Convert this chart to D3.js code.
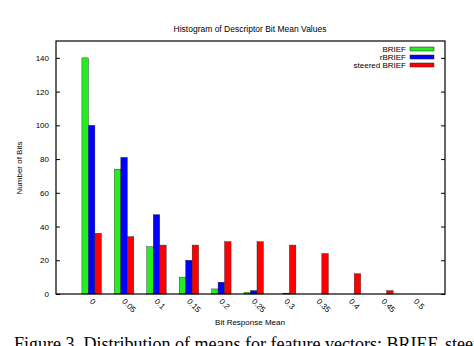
<!DOCTYPE html>
<html><head><meta charset="utf-8">
<script src="https://cdn.jsdelivr.net/npm/d3@7"></script>
<style>body{margin:0;background:#fff}svg{display:block}text{font-family:"Liberation Sans",Arial,sans-serif}</style>
</head><body>
<script>
const categories = ["0","0.05","0.1","0.15","0.2","0.25","0.3","0.35","0.4","0.45","0.5"];
const briefValues = [140,74,28,10,3,1,0,0,0,0,0];
const rbriefValues = [100,81,47,20,7,2,0.5,0,0,0,0];
const steeredValues = [36,34,29,29,31,31,29,24,12,2,0];
const seriesNames = ["BRIEF","rBRIEF","steered BRIEF"];
const seriesColors = ["#22ee22","#0000ff","#ff0000"];
const yTicks = [0,20,40,60,80,100,120,140];

const W=474,H=346;
const svg=d3.select("body").append("svg").attr("width",W).attr("height",H);
const m={l:56,r:445,t:41,b:294};
const x=d3.scaleLinear().domain([-1.1,10.9]).range([m.l,m.r]);
const y=d3.scaleLinear().domain([0,150]).range([m.b,m.t]);
const series=[briefValues,rbriefValues,steeredValues];
const offs=[-0.3,-0.1,0.1];

series.forEach((vals,si)=>{
  svg.append("g").selectAll("rect").data(vals).join("rect")
    .attr("x",(d,i)=>x(i+offs[si]))
    .attr("width",x(0.2)-x(0))
    .attr("y",d=>y(d))
    .attr("height",d=>y(0)-y(d))
    .attr("fill",seriesColors[si])
    .attr("stroke",d=>d>0?"#222":"none").attr("stroke-width",0.4);
});

// border
svg.append("rect").attr("x",m.l).attr("y",m.t).attr("width",m.r-m.l).attr("height",m.b-m.t)
  .attr("fill","none").attr("stroke","#000").attr("stroke-width",1.2);

// y axis
const yAx=d3.axisLeft(y).tickValues(yTicks).tickSize(-4).tickPadding(7);
const gy=svg.append("g").attr("transform",`translate(${m.l},0)`).call(yAx);
gy.select(".domain").remove();
gy.selectAll("text").attr("font-size",8).attr("fill","#000").style("font-family","Liberation Sans, Arial, sans-serif");
const yAxR=d3.axisRight(y).tickValues(yTicks).tickSize(-4).tickFormat("");
const gyr=svg.append("g").attr("transform",`translate(${m.r},0)`).call(yAxR);
gyr.select(".domain").remove();

// x axis labels
const xAx=d3.axisBottom(x).tickValues(d3.range(categories.length)).tickSize(0).tickFormat(i=>categories[i]);
const gx=svg.append("g").attr("transform",`translate(0,${m.b})`).call(xAx);
gx.select(".domain").remove();
gx.selectAll("text").attr("font-size",8).attr("fill","#000")
  .style("font-family","Liberation Sans, Arial, sans-serif")
  .attr("text-anchor","start").attr("dy",0).attr("y",0)
  .attr("transform","translate(-3,8) rotate(45)");

// title and labels
svg.append("text").attr("x",250).attr("y",32).attr("text-anchor","middle").attr("font-size",8.5)
  .text("Histogram of Descriptor Bit Mean Values");
svg.append("text").attr("x",250).attr("y",325).attr("text-anchor","middle").attr("font-size",8)
  .text("Bit Response Mean");
svg.append("text").attr("transform","translate(22,168) rotate(-90)").attr("text-anchor","middle").attr("font-size",8)
  .text("Number of Bits");

// legend
const lg=svg.append("g");
seriesNames.forEach((n,i)=>{
  const yy=49+i*8;
  lg.append("text").attr("x",406).attr("y",yy+3).attr("text-anchor","end").attr("font-size",8).text(n);
  lg.append("rect").attr("x",410).attr("y",yy-2).attr("width",24).attr("height",4)
    .attr("fill",seriesColors[i]).attr("stroke","#222").attr("stroke-width",0.5);
});

// caption
svg.append("text").attr("x",14).attr("y",350).attr("font-size",18)
  .style("font-family","Liberation Serif, Times New Roman, serif")
  .text("Figure 3. Distribution of means for feature vectors: BRIEF, steered");
</script>
</body></html>
